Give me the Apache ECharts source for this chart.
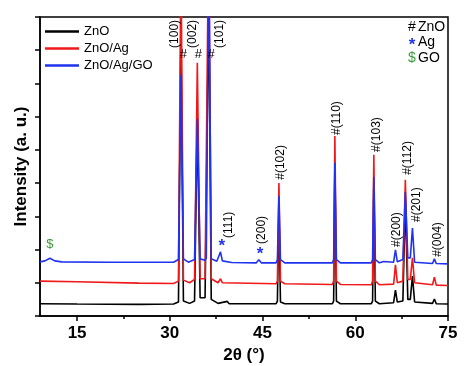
<!DOCTYPE html>
<html><head><meta charset="utf-8">
<script src="https://cdn.jsdelivr.net/npm/echarts@6/dist/echarts.min.js"></script>
<style>html,body{margin:0;padding:0;background:#fff}#c{width:474px;height:366px}</style>
</head><body><div id="c"></div>
<script>
// Series point lists [2θ, intensity (a.u.)]
const seriesNames = ['ZnO', 'ZnO/Ag', 'ZnO/Ag/GO'];
const znoPoints = [[9,0.37],[15,0.36],[25,0.35],[30.6,0.36],[31.4,0.42],[31.8,8.5],[32.2,0.45],[33.2,0.38],[34.0,0.45],[34.45,6.0],[34.9,0.55],[35.7,0.55],[35.9,0.6],[36.3,9.5],[36.7,0.5],[37.8,0.38],[39.3,0.44],[39.6,0.37],[47.2,0.37],[47.4,0.45],[47.65,3.2],[47.9,0.42],[48.6,0.37],[56.3,0.37],[56.5,0.45],[56.7,4.5],[56.95,0.45],[57.6,0.37],[62.6,0.37],[62.8,0.45],[63.0,4.0],[63.25,0.45],[63.9,0.37],[66.2,0.4],[66.5,0.78],[66.8,0.42],[67.7,0.45],[68.1,3.5],[68.5,0.5],[68.9,0.5],[69.25,1.2],[69.6,0.42],[72.5,0.38],[72.8,0.51],[73.1,0.37],[75,0.36]];
const znoAgPoints = [[9,1.05],[15,1.03],[25,0.99],[30.6,0.98],[31.4,1.05],[31.8,11],[32.2,1.08],[33.2,1.0],[34.0,1.1],[34.45,7.62],[34.9,1.12],[35.7,1.12],[35.9,1.18],[36.3,12],[36.7,1.12],[37.8,1.0],[38.2,1.12],[38.5,1.0],[47.2,0.97],[47.4,1.05],[47.65,4.0],[47.9,1.05],[48.6,0.97],[56.3,0.95],[56.5,1.05],[56.7,5.42],[56.95,1.05],[57.6,0.95],[62.6,0.94],[62.8,1.05],[63.0,4.85],[63.25,1.05],[63.9,0.94],[66.2,0.96],[66.5,1.54],[66.8,1.0],[67.7,1.05],[68.1,4.1],[68.5,1.1],[68.9,1.1],[69.25,1.75],[69.6,1.0],[72.5,0.94],[72.8,1.17],[73.1,0.93],[75,0.92]];
const znoAgGoPoints = [[9,1.63],[9.8,1.66],[10.6,1.74],[11.4,1.66],[12.5,1.63],[20,1.62],[30.6,1.62],[31.4,1.7],[31.8,7.26],[32.2,1.72],[33.0,1.62],[34.0,1.7],[34.45,5.93],[34.9,1.72],[35.7,1.68],[35.9,1.75],[36.3,11],[36.7,1.72],[37.6,1.65],[37.9,1.68],[38.2,1.93],[38.5,1.66],[40,1.61],[44.0,1.6],[44.4,1.69],[44.8,1.6],[47.2,1.6],[47.4,1.7],[47.65,3.61],[47.9,1.7],[48.6,1.6],[56.3,1.6],[56.5,1.7],[56.7,4.61],[56.95,1.7],[57.6,1.6],[62.6,1.6],[62.8,1.7],[63.0,4.19],[63.25,1.7],[63.9,1.6],[64.6,1.64],[66.2,1.62],[66.5,1.99],[66.8,1.63],[67.7,1.7],[68.1,3.73],[68.5,1.75],[68.9,1.75],[69.25,2.65],[69.6,1.62],[72.5,1.58],[72.8,1.72],[73.1,1.58],[75,1.57]];
const xMajorTicks = [15, 30, 45, 60, 75];
const xMinorTicks = [22.5, 37.5, 52.5, 67.5];
// Annotations: [text, 2θ, intensity at text start]
const rotatedLabels = [['(100)',30.8,8.07],['(002)',33.7,8.07],['(101)',38.0,8.07],['(111)',39.5,2.35],['(200)',44.8,2.17],['#(102)',48.0,4.1],['#(110)',57.0,5.45],['#(103)',63.4,4.94],['#(200)',66.7,2.08],['#(112)',68.5,4.25],['#(201)',69.9,2.83],['#(004)',73.3,1.78]];
const markSymbols = [['#',32.2,7.86,'#000'],['#',34.6,7.86,'#000'],['#',36.7,7.86,'#000'],['*',38.4,2.1,'#2233ee'],['*',44.6,1.86,'#2233ee'],['$',10.6,2.14,'#3a9a3a']];
const phaseKey = [['#','ZnO','#000'],['*','Ag','#2233ee'],['$','GO','#3a9a3a']];

const colors = ['#000000', '#f01818', '#1f33ee'];
const FONT = 'Liberation Sans, Arial, sans-serif';
const chart = echarts.init(document.getElementById('c'));
const data = [znoPoints, znoAgPoints, znoAgGoPoints];
chart.setOption({
  animation: false,
  grid: {left: 40, right: 26, top: 17, bottom: 50, show: true, borderColor: '#000', borderWidth: 1.5,
    containLabel: false, outerBoundsMode: 'none'},
  legend: {orient: 'vertical', left: 40, top: 19, icon: 'rect', itemWidth: 34, itemHeight: 2.5, itemGap: 2,
    textStyle: {fontFamily: FONT, fontSize: 13, color: '#000', lineHeight: 15}, data: seriesNames},
  xAxis: [{type: 'value', min: 9, max: 75,
    name: '2θ (°)', nameLocation: 'middle', nameGap: 28,
    nameTextStyle: {fontFamily: FONT, fontSize: 17, fontWeight: 'bold', color: '#000'},
    axisLine: {lineStyle: {color: '#000', width: 1.5}},
    axisTick: {customValues: xMajorTicks, length: 5, lineStyle: {color: '#000', width: 1.5}},
    axisLabel: {customValues: xMajorTicks, margin: 9, fontFamily: FONT, fontSize: 17, fontWeight: 'bold', color: '#000'},
    splitLine: {show: false}},
   {type: 'value', min: 9, max: 75, position: 'bottom',
    axisLine: {show: false},
    axisTick: {customValues: xMinorTicks, length: 3, lineStyle: {color: '#000', width: 1.5}},
    axisLabel: {show: false}, splitLine: {show: false}}],
  yAxis: {type: 'value', min: 0, max: 9, interval: 1,
    name: 'Intensity (a. u.)', nameLocation: 'middle', nameGap: 10,
    nameTextStyle: {fontFamily: FONT, fontSize: 17, fontWeight: 'bold', color: '#000'},
    axisLine: {show: true, lineStyle: {color: '#000', width: 1.5}},
    axisTick: {show: true, length: 5, lineStyle: {color: '#000', width: 1.5}},
    axisLabel: {show: false}, splitLine: {show: false}},
  series: seriesNames.map((n, i) => ({name: n, type: 'line', data: data[i], symbol: 'none',
    clip: true, lineStyle: {color: colors[i], width: 1.6}, itemStyle: {color: colors[i]}, z: 2 + i}))
});
const g = [];
rotatedLabels.forEach(([t, x, y]) => {
  const p = chart.convertToPixel({gridIndex: 0}, [x, y]);
  g.push({type: 'text', x: p[0], y: p[1], rotation: Math.PI / 2, z: 100,
    style: {text: t, fontFamily: FONT, fontSize: 12, fill: '#000', align: 'left', verticalAlign: 'middle'}});
});
markSymbols.forEach(([t, x, y, c]) => {
  const p = chart.convertToPixel({gridIndex: 0}, [x, y]);
  g.push({type: 'text', x: p[0], y: p[1], z: 100,
    style: {text: t, fontFamily: FONT, fontSize: t === '*' ? 17 : 13, fontWeight: t === '*' ? 'bold' : 'normal', fill: c, align: 'center', verticalAlign: 'middle'}});
});
phaseKey.forEach(([s, t, c], i) => {
  const yy = 27 + i * 15.5;
  g.push({type: 'text', x: 412, y: yy + (s === '*' ? 3 : 0), z: 100, style: {text: s, fontFamily: FONT, fontSize: s === '*' ? 17 : 14, fontWeight: s === '*' ? 'bold' : 'normal', fill: c, align: 'center', verticalAlign: 'middle'}});
  g.push({type: 'text', x: 418, y: yy, z: 100, style: {text: t, fontFamily: FONT, fontSize: 14, fill: '#000', align: 'left', verticalAlign: 'middle'}});
});
chart.setOption({graphic: g});
</script></body></html>
